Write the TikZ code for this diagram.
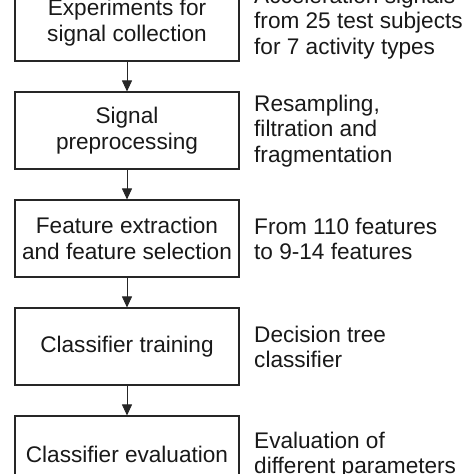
\documentclass[tikz,border=0pt]{standalone}
\usepackage{fontspec}
\setmainfont{Liberation Sans}
\usetikzlibrary{arrows.meta}
\begin{document}
\begin{tikzpicture}[x=1pt,y=-1pt,
  stepbox/.style={draw=black!85,line width=1.1pt,minimum width=224pt,minimum height=77pt,inner sep=0pt,align=center,font=\fontsize{22.6}{25.8}\selectfont,text=black!90},
  note/.style={anchor=west,inner sep=0pt,align=left,font=\fontsize{22.6}{25.3}\selectfont,text=black!90},
  arr/.style={draw=black!85,line width=0.8pt,-{Triangle[width=10pt,length=11pt]}}]
\useasboundingbox (0,0) rectangle (474,474);
\clip (0,0) rectangle (474,474);
\fill[white] (0,0) rectangle (474,474);
\node[stepbox] (b1) at (127,22.5) {Experiments for\\signal collection};
\node[stepbox] (b2) at (127,130.5) {Signal\\preprocessing};
\node[stepbox] (b3) at (127,238.5) {Feature extraction\\and feature selection};
\node[stepbox] (b4) at (127,346.5) {Classifier training};
\node[stepbox] (b5) at (127,454.5) {Classifier evaluation};
\node[note] (n1) at (254,23) {Acceleration signals\\from 25 test subjects\\for 7 activity types};
\node[note] (n2) at (254,131) {Resampling,\\filtration and\\fragmentation};
\node[note] (n3) at (254,239) {From 110 features\\to 9-14 features};
\node[note] (n4) at (254,347) {Decision tree\\classifier};
\node[note] (n5) at (254,455) {Evaluation of\\different parameters};
\draw[arr] (b1.south) -- (b2.north);
\draw[arr] (b2.south) -- (b3.north);
\draw[arr] (b3.south) -- (b4.north);
\draw[arr] (b4.south) -- (b5.north);
\end{tikzpicture}
\end{document}
